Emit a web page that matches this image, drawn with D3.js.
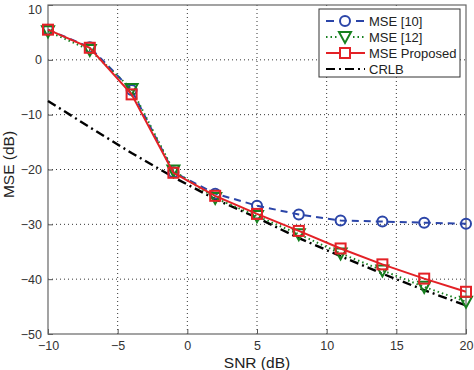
<!DOCTYPE html>
<html>
<head>
<meta charset="utf-8">
<script src="https://cdn.jsdelivr.net/npm/d3@7"></script>
<style>
  body { margin: 0; background: #fff; }
  text { font-family: "Liberation Sans", Arial, sans-serif; }
</style>
</head>
<body>
<svg width="474" height="370"></svg>
<script>
// data
var snr = [-10, -7, -4, -1, 2, 5, 8, 11, 14, 17, 20];
var mse10 = [5.5, 2.3, -5.5, -20.5, -24.4, -26.6, -28.2, -29.3, -29.5, -29.7, -29.9];
var mse12 = [5.2, 1.8, -5.3, -20.2, -25.2, -28.5, -31.8, -35.3, -38.4, -41.4, -44.1];
var mseProp = [5.5, 2.2, -6.3, -20.6, -24.8, -28.1, -31.2, -34.4, -37.3, -39.9, -42.3];
var crlb = [-7.5, -12.3, -17, -21.4, -25.4, -28.8, -32.5, -35.8, -39, -42, -44.8];
var xTicks = [-10, -5, 0, 5, 10, 15, 20];
var yTicks = [10, 0, -10, -20, -30, -40, -50];

var margin = {top: 5, right: 8, bottom: 36, left: 48},
    width = 474 - margin.left - margin.right,
    height = 370 - margin.top - margin.bottom;

var svg = d3.select("svg")
  .append("g")
    .attr("transform", "translate(" + margin.left + "," + margin.top + ")");

var x = d3.scaleLinear().domain([-10, 20]).range([0, width]);
var y = d3.scaleLinear().domain([-50, 10]).range([height, 0]);

// grid
svg.selectAll(".vgrid")
    .data(xTicks.slice(1, -1))
  .enter().append("line")
    .attr("x1", d => x(d)).attr("x2", d => x(d))
    .attr("y1", 0).attr("y2", height)
    .attr("stroke", "#000").attr("stroke-width", 0.8)
    .attr("stroke-dasharray", "1,3");
svg.selectAll(".hgrid")
    .data(yTicks.slice(1, -1))
  .enter().append("line")
    .attr("y1", d => y(d)).attr("y2", d => y(d))
    .attr("x1", 0).attr("x2", width)
    .attr("stroke", "#000").attr("stroke-width", 0.8)
    .attr("stroke-dasharray", "1,3");

// axes
var xAxis = d3.axisBottom(x).tickValues(xTicks).tickSizeInner(-5).tickSizeOuter(0)
    .tickFormat(d => d < 0 ? "\u2212" + Math.abs(d) : d);
var yAxis = d3.axisLeft(y).tickValues(yTicks).tickSizeInner(-5).tickSizeOuter(0)
    .tickFormat(d => d < 0 ? "\u2212" + Math.abs(d) : d);

var gx = svg.append("g")
    .attr("transform", "translate(0," + height + ")")
    .call(xAxis);
var gy = svg.append("g").call(yAxis);
[gx, gy].forEach(function(g) {
  g.select(".domain").remove();
  g.selectAll("line").attr("stroke", "#555");
  g.selectAll("text").attr("fill", "#333").style("font-size", "12.5px");
});
gx.selectAll("text").attr("dy", "1em");
gy.selectAll("text").attr("x", -6);
// keep the top label inside the picture
gy.selectAll(".tick").filter(d => d === 10).select("text").attr("dy", "0.7em");

// box
svg.append("rect")
    .attr("width", width).attr("height", height)
    .attr("fill", "none").attr("stroke", "#666").attr("stroke-width", 1.2);

// axis labels
svg.append("text")
    .attr("x", width / 2).attr("y", height + 34)
    .attr("text-anchor", "middle")
    .style("font-size", "15.5px").attr("fill", "#222")
    .text("SNR (dB)");
svg.append("text")
    .attr("transform", "rotate(-90)")
    .attr("x", -height / 2 + 5).attr("y", -34)
    .attr("text-anchor", "middle")
    .style("font-size", "15.5px").attr("fill", "#222")
    .text("MSE (dB)");

var series = [
  {name: "MSE [10]", vals: mse10, color: "#2b45a8", dash: "7,5", marker: "circle"},
  {name: "MSE [12]", vals: mse12, color: "#17801f", dash: "1.5,3", marker: "tri"},
  {name: "MSE Proposed", vals: mseProp, color: "#e32126", dash: null, marker: "square"},
  {name: "CRLB", vals: crlb, color: "#000", dash: "9,4,2,4", marker: null}
];

var line = d3.line()
    .x(d => x(d[0]))
    .y(d => y(d[1]));

function drawMarker(g, type, color) {
  if (type === "circle") {
    g.append("circle").attr("r", 5)
      .attr("fill", "none").attr("stroke", color).attr("stroke-width", 2);
  } else if (type === "tri") {
    g.append("path").attr("d", "M-6,-5L6,-5L0,6Z")
      .attr("fill", "none").attr("stroke", color).attr("stroke-width", 2);
  } else if (type === "square") {
    g.append("rect").attr("x", -5).attr("y", -5).attr("width", 10).attr("height", 10)
      .attr("fill", "none").attr("stroke", color).attr("stroke-width", 2);
  }
}

var order = [3, 0, 1, 2];
order.forEach(function(i) {
  var s = series[i];
  var pts = snr.map((v, j) => [v, s.vals[j]]);
  svg.append("path")
      .datum(pts)
      .attr("d", line)
      .attr("fill", "none")
      .attr("stroke", s.color)
      .attr("stroke-width", i === 3 ? 2.4 : 2)
      .attr("stroke-dasharray", s.dash);
  if (s.marker) {
    svg.selectAll(".m" + i)
        .data(pts)
      .enter().append("g")
        .attr("transform", d => "translate(" + x(d[0]) + "," + y(d[1]) + ")")
        .each(function() { drawMarker(d3.select(this), s.marker, s.color); });
  }
});

// legend
var legend = svg.append("g")
    .attr("transform", "translate(271,4)");
legend.append("rect")
    .attr("width", 141).attr("height", 68)
    .attr("fill", "#fff").attr("stroke", "#333").attr("stroke-width", 1);
var items = legend.selectAll(".legend")
    .data(series)
  .enter().append("g")
    .attr("transform", (d, i) => "translate(0," + (12 + i * 16) + ")");
items.append("line")
    .attr("x1", 7).attr("x2", 46)
    .attr("stroke", d => d.color).attr("stroke-width", 2)
    .attr("stroke-dasharray", d => d.dash ? (d.marker === "circle" ? "8,7" : d.dash) : null);
items.append("g")
    .attr("transform", "translate(26,0)")
    .each(function(d) {
      var g = d3.select(this);
      if (d.marker) {
        g.append("rect").attr("x", -6).attr("y", -6).attr("width", 12).attr("height", 12).attr("fill", "#fff");
        drawMarker(g, d.marker, d.color);
      }
    });
items.append("text")
    .attr("x", 50).attr("dy", ".35em")
    .style("font-size", "13px").attr("fill", "#222")
    .text(d => d.name);
</script>
</body>
</html>
